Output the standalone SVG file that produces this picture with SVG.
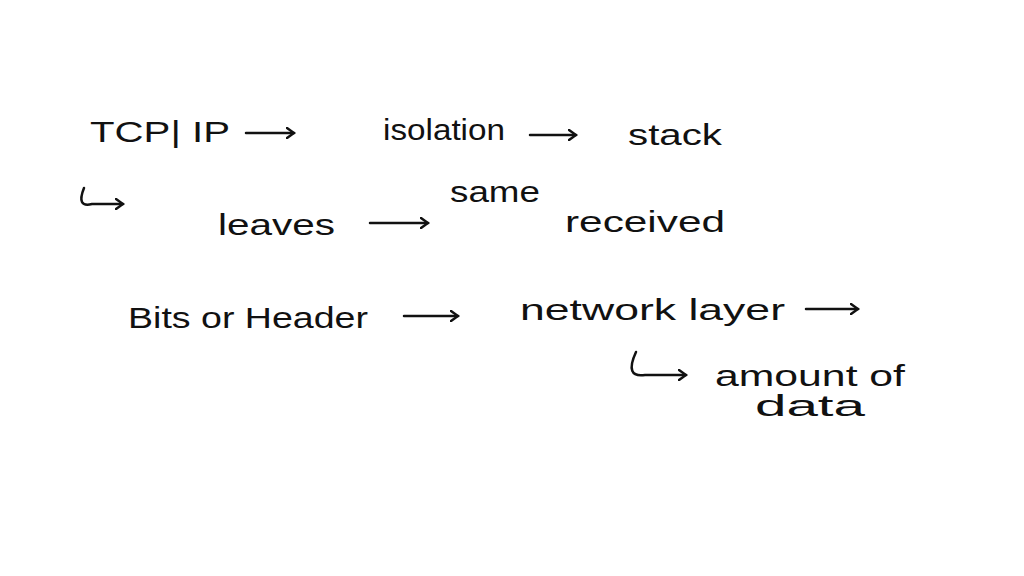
<svg xmlns="http://www.w3.org/2000/svg" width="1024" height="576" viewBox="0 0 1024 576">
<style>
text{font-family:"Liberation Sans",Arial,sans-serif;font-size:30px;fill:#111}
.c path{fill:none;stroke:#111;stroke-width:2.5;stroke-linecap:round;stroke-linejoin:round}
</style>
<defs>
<marker id="ah" markerWidth="10" markerHeight="12" refX="8" refY="6" orient="auto" markerUnits="userSpaceOnUse">
<path d="M1,1 L8,6 L1,11" fill="none" stroke="#111" stroke-width="2.5" stroke-linecap="round"/>
</marker>
</defs>
<rect width="1024" height="576" fill="#fff"/>
<g id="n1"><text x="90" y="142" textLength="140" lengthAdjust="spacingAndGlyphs">TCP| IP</text></g>
<g id="n2"><text x="383" y="140" textLength="122" lengthAdjust="spacingAndGlyphs">isolation</text></g>
<g id="n3"><text x="628" y="145" textLength="94" lengthAdjust="spacingAndGlyphs">stack</text></g>
<g id="n4"><text x="218" y="235" textLength="117" lengthAdjust="spacingAndGlyphs">leaves</text></g>
<g id="n5"><text x="450" y="202" textLength="90" lengthAdjust="spacingAndGlyphs">same</text></g>
<g id="n6"><text x="565" y="232" textLength="160" lengthAdjust="spacingAndGlyphs">received</text></g>
<g id="n7"><text x="128" y="328" textLength="240" lengthAdjust="spacingAndGlyphs">Bits or Header</text></g>
<g id="n8"><text x="520" y="320" textLength="265" lengthAdjust="spacingAndGlyphs">network layer</text></g>
<g id="n9"><text x="715" y="386" textLength="190" lengthAdjust="spacingAndGlyphs">amount of</text><text x="755" y="416" textLength="110" lengthAdjust="spacingAndGlyphs">data</text></g>
<g class="c" id="connectors">
<path d="M246,133 L294,133" marker-end="url(#ah)"/>
<path d="M530,135 L576,135" marker-end="url(#ah)"/>
<path d="M84,188 Q76,208 92,204 L123,204" marker-end="url(#ah)"/>
<path d="M370,223 L428,223" marker-end="url(#ah)"/>
<path d="M404,316 L458,316" marker-end="url(#ah)"/>
<path d="M806,309 L858,309" marker-end="url(#ah)"/>
<path d="M636,352 Q624,378 645,375 L686,375" marker-end="url(#ah)"/>
</g>
</svg>
